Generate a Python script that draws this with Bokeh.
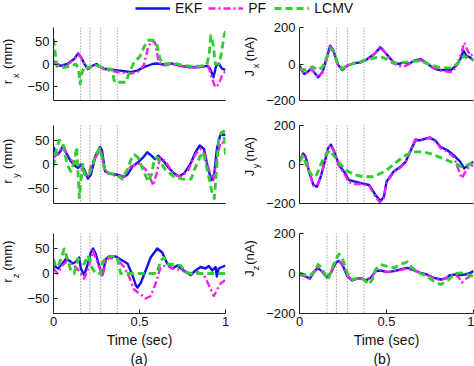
import math
from bokeh.plotting import figure
from bokeh.layouts import column, row
from bokeh.models import Range1d, FixedTicker, Span, Label, Legend, LegendItem
from bokeh.embed import file_html
from bokeh.resources import INLINE

# ---------------- data (time in s, values) ----------------
x_ticks = [0, 0.5, 1]
marker_times = [0.158, 0.212, 0.275, 0.371]
series_names = ["EKF", "PF", "LCMV"]

rx_ekf_t = [0, .013, .04, .08, .12, .143, .16, .18, .2, .225, .25, .275, .3, .35, .4, .45, .49, .525, .575, .6, .64, .69, .74, .8, .855, .895, .91, .93, .945, .96, .98, 1.0]
rx_ekf_v = [6, 2, -4, 0, 11, 23, 15, 0, -11, -4, 0, -7, -11, -13, -15, -18, -14, -7, 0, 1, -1, 1, -4, -7, -6, -4, -10, -29, -5, 1, -10, -13]
rx_pf_t = [0, .013, .04, .08, .12, .143, .16, .18, .2, .225, .25, .275, .3, .35, .4, .45, .49, .525, .55, .57, .59, .61, .63, .69, .74, .8, .855, .9, .92, .94, .96, .98, 1.0]
rx_pf_v = [4, 0, -5, -2, 10, 21, 14, 0, -10, -5, -1, -8, -12, -16, -19, -21, -17, -3, 36, 51, 47, 7, -4, 0, -5, -8, -7, -5, -29, -51, -45, -25, -15]
rx_lcmv_t = [0, .008, .02, .05, .1, .13, .145, .155, .165, .18, .2, .25, .3, .34, .355, .42, .44, .47, .5, .53, .55, .58, .6, .62, .64, .7, .75, .8, .85, .89, .905, .915, .93, .94, .96, .975, .99, 1.0]
rx_lcmv_v = [55, 30, -5, -8, -5, 0, -10, -44, -20, -5, -8, -3, -10, -12, -40, -40, -20, 5, 15, 40, 52, 52, 45, 10, 0, 2, -3, -5, -5, -3, 20, 62, 40, 0, 0, 20, 60, 72]

ry_ekf_t = [0, .013, .027, .043, .056, .072, .1, .13, .143, .159, .18, .2, .217, .245, .27, .282, .3, .33, .37, .41, .43, .46, .49, .52, .545, .57, .59, .61, .64, .67, .7, .73, .76, .8, .825, .85, .875, .9, .92, .935, .95, .97, 1.0]
ry_ekf_v = [36, 25, 21, 29, 39, 25, 7, -4, -7, 0, -11, -29, -21, 18, 36, 29, -14, -19, -21, -25, -21, -4, 4, 14, 25, 18, 11, 18, 7, -7, -18, -24, -18, 4, 25, 39, 32, -11, -32, -18, 32, 61, 61]
ry_pf_t = [0, .023, .043, .062, .08, .11, .14, .168, .2, .226, .255, .275, .295, .315, .37, .41, .45, .5, .545, .58, .6, .62, .65, .7, .74, .78, .825, .855, .88, .91, .93, .95, .97, 1.0]
ry_pf_v = [14, 21, 32, 36, 14, 7, 4, -11, -24, 4, 21, 29, -7, -18, -24, -24, -4, 2, -14, -43, -18, 14, 7, -21, -25, -14, 21, 32, 21, -18, -32, 11, 46, 43]
ry_lcmv_t = [0, .013, .033, .052, .065, .08, .1, .12, .135, .15, .16, .17, .18, .2, .22, .245, .27, .285, .3, .33, .37, .4, .43, .45, .47, .49, .52, .55, .57, .585, .6, .62, .65, .7, .75, .8, .82, .85, .87, .9, .92, .935, .95, .96, .975, .99, 1.0]
ry_lcmv_v = [-4, 25, 50, 46, 25, 0, -14, 5, 36, -68, -30, 0, -20, -25, -10, 20, 33, 10, -15, -18, -22, -30, -10, 10, 20, 15, -10, -35, -20, 10, 15, 5, -10, -25, -30, -30, -10, 15, 25, -20, -55, -70, 0, 50, 65, 68, 20]

rz_ekf_t = [0, .013, .027, .052, .072, .091, .11, .13, .149, .159, .178, .197, .217, .23, .246, .265, .284, .304, .323, .362, .4, .43, .459, .478, .488, .507, .536, .565, .603, .632, .661, .69, .72, .758, .797, .826, .855, .884, .903, .923, .942, .95, .96, .98, 1.0]
rz_ekf_v = [20, 13, 10, 20, 29, 26, 20, 23, 32, 10, -3, 16, 42, 50, 39, 16, -3, 29, 34, 34, 26, 20, -3, -23, -28, -19, 6, 32, 50, 42, 20, 10, 16, 6, -3, 6, 13, 10, 15, 6, 13, -6, 10, 13, 16]
rz_pf_t = [0, .023, .052, .072, .1, .129, .153, .178, .201, .23, .255, .284, .304, .323, .371, .41, .439, .468, .507, .536, .565, .594, .623, .661, .69, .749, .797, .836, .874, .903, .932, .952, .971, 1.0]
rz_pf_v = [10, 0, 16, 23, 20, 13, 3, -10, 10, 45, 23, -6, 23, 32, 29, 13, -6, -32, -42, -50, -45, -20, 13, 16, 10, 6, -3, 3, -3, -23, -45, -32, -20, -13]
rz_lcmv_t = [0, .013, .033, .062, .081, .101, .12, .143, .159, .178, .201, .226, .246, .275, .284, .313, .371, .39, .6, .623, .642, .661, .7, .739, .768, .797, 1.0]
rz_lcmv_v = [29, 13, 19, 49, 29, 6, 0, 29, 23, 19, 36, 10, 0, 0, 22, 34, 34, 0, 0, 26, 32, 19, 18, 16, 3, 0, 0]

jx_ekf_t = [0, .027, .046, .065, .084, .107, .132, .157, .176, .195, .218, .246, .275, .313, .35, .39, .43, .465, .5, .54, .57, .6, .628, .657, .695, .724, .762, .79, .83, .87, .9, .924, .943, .958, .981, 1.0]
jx_ekf_v = [-9, -55, -45, -27, -45, -73, -45, 36, 100, 73, 0, -33, -9, 4, 9, 27, 55, 91, 55, 9, 0, 9, 0, 18, 27, 9, -18, -31, -33, -33, -9, 27, 73, 45, 36, 18]
jx_pf_t = [0, .027, .046, .065, .084, .107, .132, .157, .176, .195, .218, .246, .275, .313, .35, .39, .43, .465, .5, .54, .561, .6, .657, .695, .73, .77, .81, .876, .905, .934, .947, .962, .981, 1.0]
jx_pf_v = [-18, -55, -45, -27, -45, -73, -45, 30, 95, 70, 0, -27, -9, 4, 9, 27, 55, 95, 55, 9, -9, -15, 15, 22, 5, -20, -36, -45, -9, 73, 118, 82, 45, 55]
jx_lcmv_t = [0, .036, .075, .103, .132, .16, .179, .199, .218, .246, .275, .313, .37, .43, .466, .5, .54, .6, .657, .695, .752, .8, .866, .905, .933, .947, .972, 1.0]
jx_lcmv_v = [-27, -33, -15, -33, -18, 45, 82, 64, 9, -27, -9, 4, 18, 33, 40, 27, 4, 9, 15, 18, -4, -18, -22, 0, 27, 45, 27, 27]

jy_ekf_t = [0, .021, .036, .055, .08, .1, .122, .145, .164, .18, .2, .227, .256, .284, .32, .36, .4, .437, .466, .485, .5, .54, .58, .61, .64, .666, .695, .724, .75, .78, .81, .85, .886, .924, .947, .97, 1.0]
jy_ekf_v = [14, 56, 39, -37, -105, -114, -63, 14, 82, 102, 65, -3, -37, -80, -88, -97, -105, -157, -187, -165, -88, -37, -12, 14, 73, 124, 124, 133, 136, 124, 90, 73, 48, 14, -20, -3, 14]
jy_pf_t = [0, .021, .036, .055, .08, .1, .122, .145, .164, .18, .2, .227, .256, .284, .32, .36, .4, .437, .462, .485, .5, .54, .58, .61, .64, .666, .695, .724, .75, .78, .81, .85, .886, .915, .933, .952, .98, 1.0]
jy_pf_v = [20, 52, 35, -40, -108, -112, -60, 18, 85, 100, 62, -8, -45, -90, -100, -100, -110, -165, -194, -170, -95, -40, -15, 10, 78, 130, 128, 130, 140, 120, 85, 65, 40, -29, -71, -40, -5, -5]
jy_lcmv_t = [0, .021, .046, .075, .1, .122, .15, .175, .202, .237, .275, .323, .37, .418, .466, .513, .56, .61, .657, .705, .752, .8, .847, .895, .933, .962, 1.0]
jy_lcmv_v = [14, 44, -20, -63, -51, 0, 48, 73, 39, 0, -34, -54, -63, -63, -46, -20, 14, 48, 65, 65, 56, 39, 22, 5, -12, -3, 5]

jz_ekf_t = [0, .031, .06, .08, .103, .128, .157, .18, .208, .227, .246, .275, .303, .332, .36, .38, .41, .437, .466, .504, .542, .58, .62, .657, .695, .733, .77, .81, .838, .866, .895, .924, .952, .981, 1.0]
jz_ekf_v = [-5, -13, -25, 3, 28, 12, -18, 3, 53, 64, 45, -13, -35, -25, -25, -35, -21, 12, 15, 7, 12, 20, 28, 17, 3, -5, -21, -30, -25, -8, -5, -8, -5, 3, 12]
jz_pf_t = [0, .031, .06, .08, .103, .128, .157, .18, .208, .227, .246, .275, .303, .332, .36, .38, .41, .437, .466, .504, .542, .58, .62, .657, .695, .733, .77, .81, .838, .866, .895, .915, .933, .952, .981, 1.0]
jz_pf_v = [-3, -15, -27, 5, 30, 10, -20, 5, 55, 62, 42, -10, -33, -27, -25, -33, -20, 10, 17, 8, 12, 18, 25, 15, 5, -8, -23, -33, -25, -10, -5, -20, -46, -30, -13, -5]
jz_lcmv_t = [0, .027, .06, .084, .107, .128, .151, .164, .189, .208, .227, .246, .275, .303, .332, .37, .4, .418, .437, .466, .504, .542, .58, .62, .648, .695, .733, .77, .81, .848, .895, .933, .962, 1.0]
jz_lcmv_v = [3, -5, -13, 12, 45, 28, -13, -30, 28, 69, 97, 78, 0, -30, -25, -30, -55, -30, 20, 45, 36, 28, 45, 58, 28, 0, -13, -38, -55, -38, 0, 3, -5, -13]

# ---------------- styles / layout ----------------
FONT = "Liberation Sans"
TXT = "#111111"
COLORS = {"EKF": "#1212e6", "PF": "#f21ff2", "LCMV": "#33cc33"}
DASH = {"EKF": "solid", "PF": "7 3 2 3", "LCMV": "7 4"}
WIDTH = {"EKF": 2.4, "PF": 2.4, "LCMV": 2.9}

LEG_H = 16
LAB_W = [22, 22]          # y-label strip widths
COL_W = [218, 212]        # panel figure widths
COL_BL = [31, 37]
COL_BR = [15, 1]
ROW_H = [96, 106, 133]
ROW_BT = [11, 13, 15]
ROW_BB = [12, 15, 38]
TAG_H = 15


def make_panel(ci, ri, yr, yticks, data):
    p = figure(width=COL_W[ci], height=ROW_H[ri],
               x_range=Range1d(0, 1), y_range=Range1d(-yr, yr),
               output_backend="svg", toolbar_location=None,
               min_border_left=COL_BL[ci], min_border_right=COL_BR[ci],
               min_border_top=ROW_BT[ri], min_border_bottom=ROW_BB[ri])
    p.outline_line_color = None
    p.grid.visible = False

    for tm in marker_times:
        p.add_layout(Span(location=tm, dimension="height", line_color="#707070",
                          line_dash="1 2", line_width=1, level="underlay"))

    for name in series_names:
        t, v = data[name]
        p.line(t, v, line_color=COLORS[name], line_width=WIDTH[name],
               line_dash=DASH[name], line_join="round")

    for ax in (p.xaxis[0], p.yaxis[0]):
        ax.axis_line_color = "#222222"
        ax.axis_line_width = 1
        ax.major_tick_line_color = "#222222"
        ax.major_tick_in = 4
        ax.major_tick_out = 0
        ax.minor_tick_line_color = None
        ax.major_label_text_font = FONT
        ax.major_label_text_font_size = "13px"
        ax.major_label_text_color = TXT

    p.yaxis.ticker = FixedTicker(ticks=yticks)
    p.yaxis.major_label_overrides = {tk: (("\u2212" + str(abs(tk))) if tk < 0 else str(tk)) for tk in yticks}
    p.yaxis.major_label_standoff = 4

    if ri == 2:
        p.xaxis.ticker = FixedTicker(ticks=x_ticks)
        p.xaxis.major_label_overrides = {0: "0", 0.5: "0.5", 1: "1"}
        p.xaxis.major_label_standoff = 3
        p.xaxis.axis_label = "Time (sec)"
        p.xaxis.axis_label_text_font = FONT
        p.xaxis.axis_label_text_font_size = "14px"
        p.xaxis.axis_label_text_font_style = "normal"
        p.xaxis.axis_label_text_color = TXT
        p.xaxis.axis_label_standoff = 3
    else:
        p.xaxis.ticker = FixedTicker(ticks=[])
    return p


def make_ylabel(ci, ri, sym, sub, unit, cx, sx, off_sym, off_sub, off_unit):
    """Narrow strip left of a panel holding its rotated y-axis label."""
    w, h = LAB_W[ci], ROW_H[ri]
    s = figure(width=w, height=h, x_range=Range1d(0, w), y_range=Range1d(0, h),
               output_backend="svg", toolbar_location=None, min_border=0,
               x_axis_type=None, y_axis_type=None)
    s.outline_line_color = None
    frame_mid = h - (ROW_BT[ri] + (h - ROW_BT[ri] - ROW_BB[ri]) / 2.0)  # bottom-up
    common = dict(angle=math.pi / 2, text_align="left", text_baseline="middle",
                  text_font=FONT, text_color=TXT)
    s.add_layout(Label(x=cx, y=frame_mid - off_sym, text=sym, text_font_size="13px", **common))
    s.add_layout(Label(x=sx, y=frame_mid - off_sub, text=sub, text_font_size="9px", **common))
    s.add_layout(Label(x=cx, y=frame_mid - off_unit, text=unit, text_font_size="13px", **common))
    return s


def make_tag(ci, text, xpos):
    w = LAB_W[ci] + COL_W[ci]
    s = figure(width=w, height=TAG_H, x_range=Range1d(0, w), y_range=Range1d(0, TAG_H),
               output_backend="svg", toolbar_location=None, min_border=0,
               x_axis_type=None, y_axis_type=None)
    s.outline_line_color = None
    s.add_layout(Label(x=xpos, y=TAG_H / 2.0, text=text, text_align="center",
                       text_baseline="middle", text_font=FONT, text_font_size="14px",
                       text_color=TXT))
    return s


R = dict(cx=7, sx=15, off_sym=27, off_sub=19, off_unit=7)
J = dict(cx=9, sx=15, off_sym=17, off_sub=6, off_unit=-3)

f1 = make_panel(0, 0, 80, [-50, 0, 50], {"EKF": (rx_ekf_t, rx_ekf_v), "PF": (rx_pf_t, rx_pf_v), "LCMV": (rx_lcmv_t, rx_lcmv_v)})
f2 = make_panel(0, 1, 80, [-50, 0, 50], {"EKF": (ry_ekf_t, ry_ekf_v), "PF": (ry_pf_t, ry_pf_v), "LCMV": (ry_lcmv_t, ry_lcmv_v)})
f3 = make_panel(0, 2, 80, [-50, 0, 50], {"EKF": (rz_ekf_t, rz_ekf_v), "PF": (rz_pf_t, rz_pf_v), "LCMV": (rz_lcmv_t, rz_lcmv_v)})
f4 = make_panel(1, 0, 200, [-200, 0, 200], {"EKF": (jx_ekf_t, jx_ekf_v), "PF": (jx_pf_t, jx_pf_v), "LCMV": (jx_lcmv_t, jx_lcmv_v)})
f5 = make_panel(1, 1, 200, [-200, 0, 200], {"EKF": (jy_ekf_t, jy_ekf_v), "PF": (jy_pf_t, jy_pf_v), "LCMV": (jy_lcmv_t, jy_lcmv_v)})
f6 = make_panel(1, 2, 200, [-200, 0, 200], {"EKF": (jz_ekf_t, jz_ekf_v), "PF": (jz_pf_t, jz_pf_v), "LCMV": (jz_lcmv_t, jz_lcmv_v)})

l1 = make_ylabel(0, 0, "r", "x", "(mm)", **R)
l2 = make_ylabel(0, 1, "r", "y", "(mm)", **R)
l3 = make_ylabel(0, 2, "r", "z", "(mm)", **R)
l4 = make_ylabel(1, 0, "J", "x", "(nA)", **J)
l5 = make_ylabel(1, 1, "J", "y", "(nA)", **J)
l6 = make_ylabel(1, 2, "J", "z", "(nA)", **J)

tag_a = make_tag(0, "(a)", 138.5)
tag_b = make_tag(1, "(b)", 141.5)

# legend strip (renderers carry real data but sit outside the visible range)
leg = figure(width=474, height=LEG_H, x_range=Range1d(10, 11), y_range=Range1d(10, 11),
             output_backend="svg", toolbar_location=None, min_border=0,
             x_axis_type=None, y_axis_type=None)
leg.outline_line_color = None
items = []
for name, (t, v) in zip(series_names, [(rx_ekf_t, rx_ekf_v), (rx_pf_t, rx_pf_v), (rx_lcmv_t, rx_lcmv_v)]):
    rr = leg.line(t, v, line_color=COLORS[name], line_width=WIDTH[name], line_dash=DASH[name])
    items.append(LegendItem(label=name, renderers=[rr]))
legend = Legend(items=items, orientation="horizontal", location=(135, 0),
                padding=0, margin=0, spacing=6, glyph_width=35, glyph_height=14,
                label_height=14, label_standoff=5, label_text_font=FONT,
                label_text_font_size="14px", label_text_color=TXT,
                border_line_color=None, background_fill_alpha=0)
leg.add_layout(legend)

left_col = column(row(l1, f1), row(l2, f2), row(l3, f3), tag_a)
right_col = column(row(l4, f4), row(l5, f5), row(l6, f6), tag_b)
p = column(leg, row(left_col, right_col))

open("out.html", "w").write(file_html(p, INLINE))
